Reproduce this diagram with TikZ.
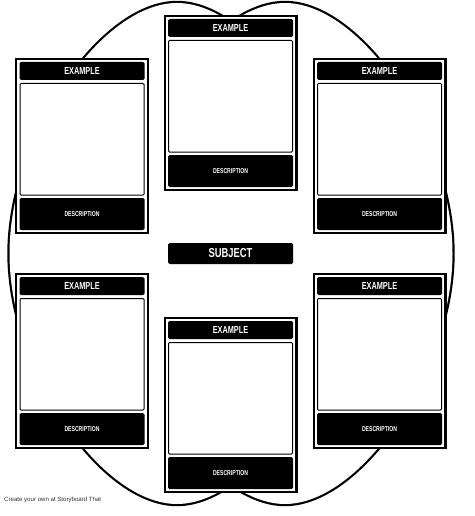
\documentclass[tikz,border=0pt]{standalone}
\usepackage{fontspec}
\setmainfont{Liberation Sans}
\newfontfamily\cardfont[FakeStretch=0.72]{Liberation Sans}
\usetikzlibrary{positioning}
\newcommand{\blob}[1]{({#1-167.5},253.5) .. controls ({#1-167.5},138.3) and ({#1-77},3) .. (#1,3)
  .. controls ({#1+77},3) and ({#1+167.5},138.3) .. ({#1+167.5},253.5)
  .. controls ({#1+167.5},368.7) and ({#1+77},504) .. (#1,504)
  .. controls ({#1-77},504) and ({#1-167.5},368.7) .. ({#1-167.5},253.5) -- cycle}

\begin{document}
\begin{tikzpicture}[x=1pt,y=-1pt]

\tikzset{
	cardframe/.style={
		draw=black,
		rectangle,
		line width=2.3pt,
		fill=white,
		minimum width=131.7pt,
		minimum height=173.7pt,
		inner sep=0pt,
		outer sep=0pt},
	headbar/.style={
		fill=black,
		rectangle,
		rounded corners=1.5pt,
		text=white,
		minimum width=125pt,
		minimum height=18pt,
		inner sep=0pt,
		outer sep=0pt,
		font=\cardfont\bfseries\fontsize{10.2}{10.2}\selectfont},
	photobox/.style={
		draw=black,
		rectangle,
		rounded corners=1pt,
		line width=1pt,
		fill=white,
		minimum width=124pt,
		minimum height=111.5pt,
		inner sep=0pt,
		outer sep=0pt},
	descbar/.style={
		fill=black,
		rectangle,
		rounded corners=1.5pt,
		text=white,
		minimum width=125pt,
		minimum height=32pt,
		inner sep=0pt,
		outer sep=0pt,
		font=\cardfont\bfseries\fontsize{7.1}{7.1}\selectfont},
	subjectbar/.style={
		fill=black,
		rectangle,
		rounded corners=1.5pt,
		text=white,
		minimum width=125pt,
		minimum height=21pt,
		inner sep=0pt,
		outer sep=0pt,
		font=\cardfont\bfseries\fontsize{13}{13}\selectfont}
}

\useasboundingbox[fill=white] (0,0) rectangle (474,516);

% outline of the two overlapping blobs
\draw[line width=4.4pt] \blob{177} \blob{285};
\fill[white] \blob{177} \blob{285};

% the six example cards
\foreach \name/\cx/\cy in {tl/82/146, tc/230.5/103, tr/379.5/146, bl/82/361, bc/230.5/405, br/379.5/361}{
	\node[cardframe] (\name) at (\cx,\cy) {};
	\node[headbar,below=2.85pt of \name.north] (\name-head) {EXAMPLE};
	\node[photobox,below=3.5pt of \name-head.south] (\name-photo) {};
	\node[descbar,below=3pt of \name-photo.south] (\name-desc) {DESCRIPTION};
}

\node[subjectbar] (subject) at (230.5,253.5) {SUBJECT};

\node[anchor=west,text=black!80,font=\fontsize{6.1}{7}\selectfont,inner sep=0pt] (credit) at (4,500) {Create your own at Storyboard That};

\end{tikzpicture}
\end{document}
